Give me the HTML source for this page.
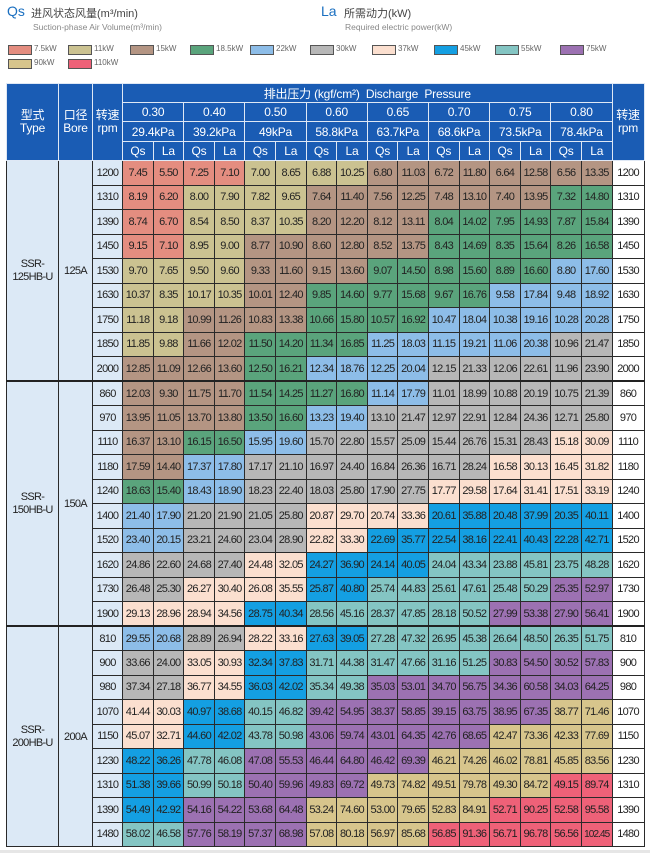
<!DOCTYPE html>
<html><head><meta charset="utf-8"><style>
body{margin:0;width:650px;height:857px;background:#fff;position:relative;overflow:hidden;font-family:"Liberation Sans","Noto Sans CJK SC",sans-serif}
.t{position:absolute;white-space:nowrap}
.sw{position:absolute;width:22px;height:8px;border:1px solid #555}
.lg{position:absolute;font-size:8px;color:#666;white-space:nowrap}
table{position:absolute;left:6px;top:83px;width:638px;border-collapse:collapse;table-layout:fixed}
td{border:1px solid #2a2a2a;padding:0;text-align:center;font-size:11px;letter-spacing:-0.7px;color:#222;overflow:hidden;white-space:nowrap}
thead td{background:#1a5cb4;color:#fff;border:1px solid #dfe8f5;font-size:12px;letter-spacing:-0.2px}
tbody tr{height:24.5px}
.lb{background:#dce9f6}
.w{background:#fff}
.A{background:#e48d80}.B{background:#cbc291}.C{background:#b49583}.D{background:#5aa47c}.E{background:#8dbde8}.F{background:#b7b7b7}.G{background:#fbdfcf}.H{background:#149fe2}.I{background:#84c5c3}.J{background:#9c71b2}.K{background:#d7c58c}.L{background:#ee6178}
.sep td{border-top:2px solid #222}
</style></head><body>
<div class="t" style="left:7px;top:3px;font-size:14px;color:#1a6fc0">Qs</div>
<div class="t" style="left:31px;top:5px;font-size:11px;color:#444">进风状态风量(m³/min)</div>
<div class="t" style="left:33px;top:22px;font-size:8.5px;color:#888">Suction-phase Air Volume(m³/min)</div>
<div class="t" style="left:321px;top:3px;font-size:14px;color:#1a6fc0">La</div>
<div class="t" style="left:344px;top:5px;font-size:11px;color:#444">所需动力(kW)</div>
<div class="t" style="left:345px;top:22px;font-size:8.5px;color:#888">Required electric power(kW)</div>

<div class="sw A" style="left:8px;top:45px"></div><div class="lg" style="left:34px;top:44px">7.5kW</div>
<div class="sw B" style="left:68px;top:45px"></div><div class="lg" style="left:94px;top:44px">11kW</div>
<div class="sw C" style="left:130px;top:45px"></div><div class="lg" style="left:156px;top:44px">15kW</div>
<div class="sw D" style="left:190px;top:45px"></div><div class="lg" style="left:216px;top:44px">18.5kW</div>
<div class="sw E" style="left:250px;top:45px"></div><div class="lg" style="left:276px;top:44px">22kW</div>
<div class="sw F" style="left:310px;top:45px"></div><div class="lg" style="left:336px;top:44px">30kW</div>
<div class="sw G" style="left:372px;top:45px"></div><div class="lg" style="left:398px;top:44px">37kW</div>
<div class="sw H" style="left:434px;top:45px"></div><div class="lg" style="left:460px;top:44px">45kW</div>
<div class="sw I" style="left:495px;top:45px"></div><div class="lg" style="left:521px;top:44px">55kW</div>
<div class="sw J" style="left:560px;top:45px"></div><div class="lg" style="left:586px;top:44px">75kW</div>
<div class="sw K" style="left:8px;top:59px"></div><div class="lg" style="left:34px;top:58px">90kW</div>
<div class="sw L" style="left:68px;top:59px"></div><div class="lg" style="left:94px;top:58px">110kW</div>

<table>
<colgroup><col style="width:52px"><col style="width:34px"><col style="width:30px">
<col span="16" style="width:30.6px"><col style="width:32px"></colgroup>
<thead>
<tr style="height:19px"><td rowspan="4" style="line-height:13px">型式<br>Type</td><td rowspan="4" style="line-height:13px">口径<br>Bore</td><td rowspan="4" style="line-height:13px">转速<br>rpm</td><td colspan="16">排出压力 (kgf/cm²)&nbsp; Discharge&nbsp; Pressure</td><td rowspan="4" style="line-height:13px">转速<br>rpm</td></tr>
<tr style="height:19px"><td colspan="2">0.30</td><td colspan="2">0.40</td><td colspan="2">0.50</td><td colspan="2">0.60</td><td colspan="2">0.65</td><td colspan="2">0.70</td><td colspan="2">0.75</td><td colspan="2">0.80</td></tr>
<tr style="height:20px"><td colspan="2">29.4kPa</td><td colspan="2">39.2kPa</td><td colspan="2">49kPa</td><td colspan="2">58.8kPa</td><td colspan="2">63.7kPa</td><td colspan="2">68.6kPa</td><td colspan="2">73.5kPa</td><td colspan="2">78.4kPa</td></tr>
<tr style="height:19px"><td>Qs</td><td>La</td><td>Qs</td><td>La</td><td>Qs</td><td>La</td><td>Qs</td><td>La</td><td>Qs</td><td>La</td><td>Qs</td><td>La</td><td>Qs</td><td>La</td><td>Qs</td><td>La</td></tr>
</thead>
<tbody>
<tr><td class="lb" rowspan="9" style="line-height:13px">SSR-<br>125HB-U</td><td class="lb" rowspan="9">125A</td><td class="lb">1200</td><td class="A">7.45</td><td class="A">5.50</td><td class="A">7.25</td><td class="A">7.10</td><td class="B">7.00</td><td class="B">8.65</td><td class="B">6.88</td><td class="B">10.25</td><td class="C">6.80</td><td class="C">11.03</td><td class="C">6.72</td><td class="C">11.80</td><td class="C">6.64</td><td class="C">12.58</td><td class="C">6.56</td><td class="C">13.35</td><td class="w">1200</td></tr>
<tr><td class="lb">1310</td><td class="A">8.19</td><td class="A">6.20</td><td class="B">8.00</td><td class="B">7.90</td><td class="B">7.82</td><td class="B">9.65</td><td class="C">7.64</td><td class="C">11.40</td><td class="C">7.56</td><td class="C">12.25</td><td class="C">7.48</td><td class="C">13.10</td><td class="C">7.40</td><td class="C">13.95</td><td class="D">7.32</td><td class="D">14.80</td><td class="w">1310</td></tr>
<tr><td class="lb">1390</td><td class="A">8.74</td><td class="A">6.70</td><td class="B">8.54</td><td class="B">8.50</td><td class="B">8.37</td><td class="B">10.35</td><td class="C">8.20</td><td class="C">12.20</td><td class="C">8.12</td><td class="C">13.11</td><td class="D">8.04</td><td class="D">14.02</td><td class="D">7.95</td><td class="D">14.93</td><td class="D">7.87</td><td class="D">15.84</td><td class="w">1390</td></tr>
<tr><td class="lb">1450</td><td class="A">9.15</td><td class="A">7.10</td><td class="B">8.95</td><td class="B">9.00</td><td class="C">8.77</td><td class="C">10.90</td><td class="C">8.60</td><td class="C">12.80</td><td class="C">8.52</td><td class="C">13.75</td><td class="D">8.43</td><td class="D">14.69</td><td class="D">8.35</td><td class="D">15.64</td><td class="D">8.26</td><td class="D">16.58</td><td class="w">1450</td></tr>
<tr><td class="lb">1530</td><td class="B">9.70</td><td class="B">7.65</td><td class="B">9.50</td><td class="B">9.60</td><td class="C">9.33</td><td class="C">11.60</td><td class="C">9.15</td><td class="C">13.60</td><td class="D">9.07</td><td class="D">14.50</td><td class="D">8.98</td><td class="D">15.60</td><td class="D">8.89</td><td class="D">16.60</td><td class="E">8.80</td><td class="E">17.60</td><td class="w">1530</td></tr>
<tr><td class="lb">1630</td><td class="B">10.37</td><td class="B">8.35</td><td class="B">10.17</td><td class="B">10.35</td><td class="C">10.01</td><td class="C">12.40</td><td class="D">9.85</td><td class="D">14.60</td><td class="D">9.77</td><td class="D">15.68</td><td class="D">9.67</td><td class="D">16.76</td><td class="E">9.58</td><td class="E">17.84</td><td class="E">9.48</td><td class="E">18.92</td><td class="w">1630</td></tr>
<tr><td class="lb">1750</td><td class="B">11.18</td><td class="B">9.18</td><td class="C">10.99</td><td class="C">11.26</td><td class="C">10.83</td><td class="C">13.38</td><td class="D">10.66</td><td class="D">15.80</td><td class="D">10.57</td><td class="D">16.92</td><td class="E">10.47</td><td class="E">18.04</td><td class="E">10.38</td><td class="E">19.16</td><td class="E">10.28</td><td class="E">20.28</td><td class="w">1750</td></tr>
<tr><td class="lb">1850</td><td class="B">11.85</td><td class="B">9.88</td><td class="C">11.66</td><td class="C">12.02</td><td class="D">11.50</td><td class="D">14.20</td><td class="D">11.34</td><td class="D">16.85</td><td class="E">11.25</td><td class="E">18.03</td><td class="E">11.15</td><td class="E">19.21</td><td class="E">11.06</td><td class="E">20.38</td><td class="F">10.96</td><td class="F">21.47</td><td class="w">1850</td></tr>
<tr><td class="lb">2000</td><td class="C">12.85</td><td class="C">11.09</td><td class="C">12.66</td><td class="C">13.60</td><td class="D">12.50</td><td class="D">16.21</td><td class="E">12.34</td><td class="E">18.76</td><td class="E">12.25</td><td class="E">20.04</td><td class="F">12.15</td><td class="F">21.33</td><td class="F">12.06</td><td class="F">22.61</td><td class="F">11.96</td><td class="F">23.90</td><td class="w">2000</td></tr>

<tr class="sep"><td class="lb" rowspan="10" style="line-height:13px">SSR-<br>150HB-U</td><td class="lb" rowspan="10">150A</td><td class="lb">860</td><td class="C">12.03</td><td class="C">9.30</td><td class="C">11.75</td><td class="C">11.70</td><td class="D">11.54</td><td class="D">14.25</td><td class="D">11.27</td><td class="D">16.80</td><td class="E">11.14</td><td class="E">17.79</td><td class="F">11.01</td><td class="F">18.99</td><td class="F">10.88</td><td class="F">20.19</td><td class="F">10.75</td><td class="F">21.39</td><td class="w">860</td></tr>
<tr><td class="lb">970</td><td class="C">13.95</td><td class="C">11.05</td><td class="C">13.70</td><td class="C">13.80</td><td class="D">13.50</td><td class="D">16.60</td><td class="E">13.23</td><td class="E">19.40</td><td class="F">13.10</td><td class="F">21.47</td><td class="F">12.97</td><td class="F">22.91</td><td class="F">12.84</td><td class="F">24.36</td><td class="F">12.71</td><td class="F">25.80</td><td class="w">970</td></tr>
<tr><td class="lb">1110</td><td class="C">16.37</td><td class="C">13.10</td><td class="D">16.15</td><td class="D">16.50</td><td class="E">15.95</td><td class="E">19.60</td><td class="F">15.70</td><td class="F">22.80</td><td class="F">15.57</td><td class="F">25.09</td><td class="F">15.44</td><td class="F">26.76</td><td class="F">15.31</td><td class="F">28.43</td><td class="G">15.18</td><td class="G">30.09</td><td class="w">1110</td></tr>
<tr><td class="lb">1180</td><td class="C">17.59</td><td class="C">14.40</td><td class="E">17.37</td><td class="E">17.80</td><td class="F">17.17</td><td class="F">21.10</td><td class="F">16.97</td><td class="F">24.40</td><td class="F">16.84</td><td class="F">26.36</td><td class="F">16.71</td><td class="F">28.24</td><td class="G">16.58</td><td class="G">30.13</td><td class="G">16.45</td><td class="G">31.82</td><td class="w">1180</td></tr>
<tr><td class="lb">1240</td><td class="D">18.63</td><td class="D">15.40</td><td class="E">18.43</td><td class="E">18.90</td><td class="F">18.23</td><td class="F">22.40</td><td class="F">18.03</td><td class="F">25.80</td><td class="F">17.90</td><td class="F">27.75</td><td class="G">17.77</td><td class="G">29.58</td><td class="G">17.64</td><td class="G">31.41</td><td class="G">17.51</td><td class="G">33.19</td><td class="w">1240</td></tr>
<tr><td class="lb">1400</td><td class="E">21.40</td><td class="E">17.90</td><td class="F">21.20</td><td class="F">21.90</td><td class="F">21.05</td><td class="F">25.80</td><td class="G">20.87</td><td class="G">29.70</td><td class="G">20.74</td><td class="G">33.36</td><td class="H">20.61</td><td class="H">35.88</td><td class="H">20.48</td><td class="H">37.99</td><td class="H">20.35</td><td class="H">40.11</td><td class="w">1400</td></tr>
<tr><td class="lb">1520</td><td class="E">23.40</td><td class="E">20.15</td><td class="F">23.21</td><td class="F">24.60</td><td class="F">23.04</td><td class="F">28.90</td><td class="G">22.82</td><td class="G">33.30</td><td class="H">22.69</td><td class="H">35.77</td><td class="H">22.54</td><td class="H">38.16</td><td class="H">22.41</td><td class="H">40.43</td><td class="H">22.28</td><td class="H">42.71</td><td class="w">1520</td></tr>
<tr><td class="lb">1620</td><td class="F">24.86</td><td class="F">22.60</td><td class="F">24.68</td><td class="F">27.40</td><td class="G">24.48</td><td class="G">32.05</td><td class="H">24.27</td><td class="H">36.90</td><td class="H">24.14</td><td class="H">40.05</td><td class="I">24.04</td><td class="I">43.34</td><td class="I">23.88</td><td class="I">45.81</td><td class="I">23.75</td><td class="I">48.28</td><td class="w">1620</td></tr>
<tr><td class="lb">1730</td><td class="F">26.48</td><td class="F">25.30</td><td class="G">26.27</td><td class="G">30.40</td><td class="G">26.08</td><td class="G">35.55</td><td class="H">25.87</td><td class="H">40.80</td><td class="I">25.74</td><td class="I">44.83</td><td class="I">25.61</td><td class="I">47.61</td><td class="I">25.48</td><td class="I">50.29</td><td class="J">25.35</td><td class="J">52.97</td><td class="w">1730</td></tr>
<tr><td class="lb">1900</td><td class="G">29.13</td><td class="G">28.96</td><td class="G">28.94</td><td class="G">34.56</td><td class="H">28.75</td><td class="H">40.34</td><td class="I">28.56</td><td class="I">45.16</td><td class="I">28.37</td><td class="I">47.85</td><td class="I">28.18</td><td class="I">50.52</td><td class="J">27.99</td><td class="J">53.38</td><td class="J">27.90</td><td class="J">56.41</td><td class="w">1900</td></tr>

<tr class="sep"><td class="lb" rowspan="9" style="line-height:13px">SSR-<br>200HB-U</td><td class="lb" rowspan="9">200A</td><td class="lb">810</td><td class="E">29.55</td><td class="E">20.68</td><td class="F">28.89</td><td class="F">26.94</td><td class="G">28.22</td><td class="G">33.16</td><td class="H">27.63</td><td class="H">39.05</td><td class="I">27.28</td><td class="I">47.32</td><td class="I">26.95</td><td class="I">45.38</td><td class="I">26.64</td><td class="I">48.50</td><td class="I">26.35</td><td class="I">51.75</td><td class="w">810</td></tr>
<tr><td class="lb">900</td><td class="F">33.66</td><td class="F">24.00</td><td class="G">33.05</td><td class="G">30.93</td><td class="H">32.34</td><td class="H">37.83</td><td class="I">31.71</td><td class="I">44.38</td><td class="I">31.47</td><td class="I">47.66</td><td class="I">31.16</td><td class="I">51.25</td><td class="J">30.83</td><td class="J">54.50</td><td class="J">30.52</td><td class="J">57.83</td><td class="w">900</td></tr>
<tr><td class="lb">980</td><td class="F">37.34</td><td class="F">27.18</td><td class="G">36.77</td><td class="G">34.55</td><td class="H">36.03</td><td class="H">42.02</td><td class="I">35.34</td><td class="I">49.38</td><td class="J">35.03</td><td class="J">53.01</td><td class="J">34.70</td><td class="J">56.75</td><td class="J">34.36</td><td class="J">60.58</td><td class="J">34.03</td><td class="J">64.25</td><td class="w">980</td></tr>
<tr><td class="lb">1070</td><td class="G">41.44</td><td class="G">30.03</td><td class="H">40.97</td><td class="H">38.68</td><td class="I">40.15</td><td class="I">46.82</td><td class="J">39.42</td><td class="J">54.95</td><td class="J">38.37</td><td class="J">58.85</td><td class="J">39.15</td><td class="J">63.75</td><td class="J">38.95</td><td class="J">67.35</td><td class="K">38.77</td><td class="K">71.46</td><td class="w">1070</td></tr>
<tr><td class="lb">1150</td><td class="G">45.07</td><td class="G">32.71</td><td class="H">44.60</td><td class="H">42.02</td><td class="I">43.78</td><td class="I">50.98</td><td class="J">43.06</td><td class="J">59.74</td><td class="J">43.01</td><td class="J">64.35</td><td class="J">42.76</td><td class="J">68.65</td><td class="K">42.47</td><td class="K">73.36</td><td class="K">42.33</td><td class="K">77.69</td><td class="w">1150</td></tr>
<tr><td class="lb">1230</td><td class="H">48.22</td><td class="H">36.26</td><td class="I">47.78</td><td class="I">46.08</td><td class="J">47.08</td><td class="J">55.53</td><td class="J">46.44</td><td class="J">64.80</td><td class="J">46.42</td><td class="J">69.39</td><td class="K">46.21</td><td class="K">74.26</td><td class="K">46.02</td><td class="K">78.81</td><td class="K">45.85</td><td class="K">83.56</td><td class="w">1230</td></tr>
<tr><td class="lb">1310</td><td class="H">51.38</td><td class="H">39.66</td><td class="I">50.99</td><td class="I">50.18</td><td class="J">50.40</td><td class="J">59.96</td><td class="J">49.83</td><td class="J">69.72</td><td class="K">49.73</td><td class="K">74.82</td><td class="K">49.51</td><td class="K">79.78</td><td class="K">49.30</td><td class="K">84.72</td><td class="L">49.15</td><td class="L">89.74</td><td class="w">1310</td></tr>
<tr><td class="lb">1390</td><td class="H">54.49</td><td class="H">42.92</td><td class="J">54.16</td><td class="J">54.22</td><td class="J">53.68</td><td class="J">64.48</td><td class="K">53.24</td><td class="K">74.60</td><td class="K">53.00</td><td class="K">79.65</td><td class="K">52.83</td><td class="K">84.91</td><td class="L">52.71</td><td class="L">90.25</td><td class="L">52.58</td><td class="L">95.58</td><td class="w">1390</td></tr>
<tr><td class="lb">1480</td><td class="I">58.02</td><td class="I">46.58</td><td class="J">57.76</td><td class="J">58.19</td><td class="J">57.37</td><td class="J">68.98</td><td class="K">57.08</td><td class="K">80.18</td><td class="K">56.97</td><td class="K">85.68</td><td class="L">56.85</td><td class="L">91.36</td><td class="L">56.71</td><td class="L">96.78</td><td class="L">56.56</td><td class="L" style="font-size:10px;letter-spacing:-0.9px">102.45</td><td class="w">1480</td></tr>
</tbody>
</table>
<div style="position:absolute;left:0;top:850px;width:650px;height:3px;background:#e6e6e6"></div>
</body></html>
